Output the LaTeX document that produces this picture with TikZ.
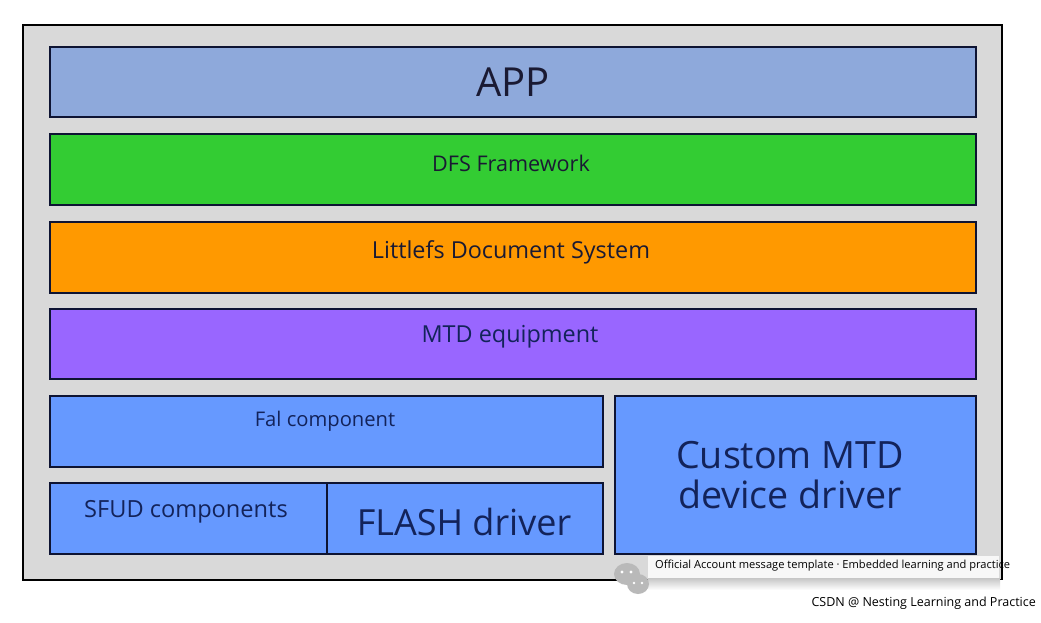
\documentclass[tikz,border=0pt]{standalone}
\usepackage{fontspec}
\setmainfont{Open Sans}
\definecolor{appc}{HTML}{8EA9DB}
\definecolor{dfsc}{HTML}{33CC33}
\definecolor{lfsc}{HTML}{FF9900}
\definecolor{mtdc}{HTML}{9966FF}
\definecolor{bluec}{HTML}{6699FF}
\definecolor{grayc}{HTML}{D9D9D9}
\definecolor{edgec}{HTML}{0E1433}
\definecolor{navyc}{HTML}{13235A}
\definecolor{darkt}{HTML}{1A1A33}
\begin{document}
\begin{tikzpicture}[x=1pt,y=-1pt,
  layer/.style={draw=edgec, line width=1.6pt, anchor=north west, inner sep=0pt, outer sep=0pt},
  lbl/.style={inner sep=0pt, anchor=center},
]
\useasboundingbox (0,0) rectangle (1041,623);
\fill[white] (0,0) rectangle (1041,623);
% outer frame
\node[draw=black, line width=1.6pt, fill=grayc, anchor=north west, minimum width=979pt, minimum height=555pt, inner sep=0pt] (frame) at (22,24) {};
% layers
\node[layer, fill=appc, minimum width=926pt, minimum height=70pt] (app) at (50,47) {};
\node[layer, fill=dfsc, minimum width=926pt, minimum height=71pt] (dfs) at (50,134) {};
\node[layer, fill=lfsc, minimum width=926pt, minimum height=71pt] (lfs) at (50,222) {};
\node[layer, fill=mtdc, minimum width=926pt, minimum height=70pt] (mtd) at (50,309) {};
\node[layer, fill=bluec, minimum width=553pt, minimum height=71pt] (fal) at (50,396) {};
\node[layer, fill=bluec, minimum width=277pt, minimum height=71pt] (sfud) at (50,483) {};
\node[layer, fill=bluec, minimum width=276pt, minimum height=71pt] (flash) at (327,483) {};
\node[layer, fill=bluec, minimum width=361pt, minimum height=158pt] (cust) at (615,396) {};
% labels
\node[lbl, text=darkt, font=\fontsize{40}{44}\selectfont] (appT) at (513,82) {APP};
\node[lbl, text=darkt, font=\fontsize{21.6}{25}\selectfont] (dfsT) at (511,163) {DFS Framework};
\node[lbl, text=darkt, font=\fontsize{23.4}{27}\selectfont] (lfsT) at (511,252) {Littlefs Document System};
\node[lbl, text=navyc, font=\fontsize{23.4}{27}\selectfont] (mtdT) at (510,337) {MTD equipment};
\node[lbl, text=navyc, font=\fontsize{20.2}{24}\selectfont] (falT) at (325,421) {Fal component};
\node[lbl, text=navyc, font=\fontsize{23.6}{27}\selectfont] (sfudT) at (186,512) {SFUD components};
\node[lbl, text=navyc, font=\fontsize{36}{40}\selectfont] (flashT) at (464,522) {FLASH driver};
\node[lbl, text=navyc, font=\fontsize{37.6}{42}\selectfont, align=center] (custT) at (790,475) {Custom MTD\\[-2pt]device driver};
% watermark strip
\fill[white!80!grayc] (648,556) rectangle (999,578);
\fill[white] (648,579.8) rectangle (1005,600);
\shade[top color=gray!45, bottom color=white] (648,578) rectangle (1000,590);
% wechat icon
\fill[gray!55] (627,574) ellipse (13pt and 11pt);
\fill[gray!55] (638,584) ellipse (11pt and 10pt);
\fill[white] (622,572) circle (1.6pt) (631,572) circle (1.6pt);
\fill[white] (634,583) circle (1.4pt) (642,583) circle (1.4pt);
\node[lbl, anchor=west, text=black, font=\fontsize{11.1}{13}\selectfont] (wm1) at (655,566) {Official Account message template · Embedded learning and practice};
\node[lbl, anchor=east, text=black, font=\fontsize{12.5}{14}\selectfont] (wm2) at (1036,603) {CSDN @ Nesting Learning and Practice};
\end{tikzpicture}
\end{document}
